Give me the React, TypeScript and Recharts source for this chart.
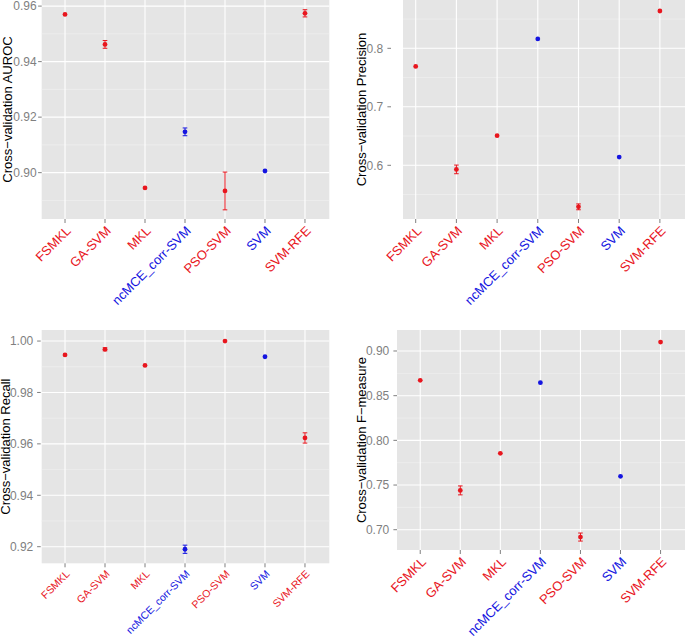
import React from 'react';
import { ScatterChart, Scatter, XAxis, YAxis, CartesianGrid, ErrorBar } from 'recharts';

// ---------- data ----------
const categories = ['FSMKL', 'GA-SVM', 'MKL', 'ncMCE_corr-SVM', 'PSO-SVM', 'SVM', 'SVM-RFE'];
const blueCategories = ['ncMCE_corr-SVM', 'SVM'];
const categoryIndex = [0, 1, 2, 3, 4, 5, 6];

const aurocValues = [0.957, 0.9462, 0.8945, 0.9147, 0.8934, 0.9006, 0.9574];
const aurocErrors = [0, 0.0014, 0, 0.0014, 0.0068, 0, 0.0013];
const aurocTicks = [0.9, 0.92, 0.94, 0.96];
const aurocMinor = [0.89, 0.91, 0.93, 0.95];

const precisionValues = [0.769, 0.593, 0.6506, 0.816, 0.529, 0.614, 0.8638];
const precisionErrors = [0, 0.0074, 0, 0, 0.005, 0, 0];
const precisionTicks = [0.6, 0.7, 0.8];
const precisionMinor = [0.55, 0.65, 0.75, 0.85];

const recallValues = [0.9946, 0.9968, 0.9905, 0.919, 1.0, 0.9939, 0.9623];
const recallErrors = [0, 0.0006, 0, 0.0016, 0, 0, 0.002];
const recallTicks = [0.92, 0.94, 0.96, 0.98, 1.0];
const recallMinor = [0.93, 0.95, 0.97, 0.99];

const fValues = [0.8672, 0.744, 0.7855, 0.8646, 0.6918, 0.7597, 0.91];
const fErrors = [0, 0.005, 0, 0, 0.0045, 0, 0];
const fTicks = [0.7, 0.75, 0.8, 0.85, 0.9];
const fMinor = [0.725, 0.775, 0.825, 0.875];

// ---------- style ----------
const RED = '#E8161E';
const BLUE = '#1515E0';
const FONT = '"Liberation Sans", Arial, Helvetica, sans-serif';
const TICK_GREY = '#7F7F7F';

type PanelCfg = {
  title: string;
  values: number[];
  errors: number[];
  ticks: number[];
  minor: number[];
  decimals: number;
  box: { left: number; top: number; right: number; bottom: number };
  plot: { left: number; top: number; right: number; bottom: number };
  xDomain: [number, number];
  yDomain: [number, number];
  labelOffset: number;
  dashEnd: number;
  xFont: number;
  titleX: number;
};

const panels: PanelCfg[] = [
  {
    title: 'Cross\u2212validation AUROC',
    values: aurocValues,
    errors: aurocErrors,
    ticks: aurocTicks,
    minor: aurocMinor,
    decimals: 2,
    box: { left: 0, top: 0, right: 340, bottom: 320 },
    plot: { left: 41.7, top: 0, right: 329.3, bottom: 219 },
    xDomain: [-0.583, 6.608],
    yDomain: [0.8833, 0.9622],
    labelOffset: 5,
    dashEnd: 0,
    xFont: 13,
    titleX: 11.5,
  },
  {
    title: 'Cross\u2212validation Precision',
    values: precisionValues,
    errors: precisionErrors,
    ticks: precisionTicks,
    minor: precisionMinor,
    decimals: 1,
    box: { left: 340, top: 0, right: 685, bottom: 320 },
    plot: { left: 403, top: 0, right: 685, bottom: 219 },
    xDomain: [-0.312, 6.617],
    yDomain: [0.5082, 0.8826],
    labelOffset: 19.7,
    dashEnd: 12,
    xFont: 13,
    titleX: 366,
  },
  {
    title: 'Cross\u2212validation Recall',
    values: recallValues,
    errors: recallErrors,
    ticks: recallTicks,
    minor: recallMinor,
    decimals: 2,
    box: { left: 0, top: 320, right: 340, bottom: 638 },
    plot: { left: 41.7, top: 330, right: 329.3, bottom: 563.3 },
    xDomain: [-0.583, 6.608],
    yDomain: [0.91354, 1.0043],
    labelOffset: 8.4,
    dashEnd: 1,
    xFont: 10.5,
    titleX: 10.5,
  },
  {
    title: 'Cross\u2212validation F\u2212measure',
    values: fValues,
    errors: fErrors,
    ticks: fTicks,
    minor: fMinor,
    decimals: 2,
    box: { left: 340, top: 320, right: 685, bottom: 638 },
    plot: { left: 397, top: 330, right: 685, bottom: 550 },
    xDomain: [-0.58, 6.61],
    yDomain: [0.6773, 0.9235],
    labelOffset: 7.7,
    dashEnd: 0,
    xFont: 13,
    titleX: 366,
  },
];

const colorOf = (name: string) => (blueCategories.includes(name) ? BLUE : RED);

function Panel({ cfg }: { cfg: PanelCfg }) {
  const { box, plot } = cfg;
  const width = box.right - box.left;
  const height = box.bottom - box.top;
  const data = categories.map((name, i) => ({
    x: categoryIndex[i],
    y: cfg.values[i],
    err: cfg.errors[i],
    name,
  }));
  const redData = data.filter((d) => !blueCategories.includes(d.name));
  const blueData = data.filter((d) => blueCategories.includes(d.name));

  const xTick = (props: any) => {
    const { x, y, payload } = props;
    const name = categories[payload.value];
    const ay = y + 6;
    return (
      <g>
        <line x1={x} x2={x} y1={y} y2={y + 4} stroke={TICK_GREY} strokeWidth={1} />
        <text
          x={x}
          y={ay}
          dy="0.72em"
          textAnchor="end"
          transform={`rotate(-45, ${x}, ${ay})`}
          fill={colorOf(name)}
          fontSize={cfg.xFont}
          fontFamily={FONT}
        >
          {name}
        </text>
      </g>
    );
  };

  const yTick = (props: any) => {
    const { x, y, payload } = props;
    return (
      <g>
        <line
          x1={x - cfg.dashEnd - 3.6}
          x2={x - cfg.dashEnd}
          y1={y}
          y2={y}
          stroke={TICK_GREY}
          strokeWidth={1}
        />
        <text
          x={x - cfg.labelOffset}
          y={y}
          dy="0.36em"
          textAnchor="end"
          fill={TICK_GREY}
          fontSize={12}
          fontFamily={FONT}
        >
          {Number(payload.value).toFixed(cfg.decimals)}
        </text>
      </g>
    );
  };

  const dot = (color: string) => (props: any) => (
    <circle cx={props.cx} cy={props.cy} r={2.4} fill={color} />
  );

  const titleCY = (plot.top + plot.bottom) / 2 - box.top;
  const titleX = cfg.titleX - box.left;

  return (
    <div style={{ position: 'absolute', left: box.left, top: box.top, width, height }}>
      <ScatterChart
        width={width}
        height={height}
        margin={{ top: plot.top - box.top, right: box.right - plot.right, bottom: 0, left: 0 }}
      >
        <CartesianGrid
          horizontalValues={cfg.minor}
          vertical={false}
          stroke="#F2F2F2"
          strokeWidth={0.6}
          fill="#E5E5E5"
        />
        <CartesianGrid
          horizontalValues={cfg.ticks}
          verticalValues={categoryIndex}
          stroke="#FFFFFF"
          strokeWidth={1.1}
        />
        <XAxis
          type="number"
          dataKey="x"
          domain={cfg.xDomain}
          ticks={categoryIndex}
          interval={0}
          allowDataOverflow
          axisLine={false}
          tickLine={false}
          tickSize={0}
          tickMargin={0}
          height={box.bottom - plot.bottom}
          tick={xTick}
        />
        <YAxis
          type="number"
          dataKey="y"
          domain={cfg.yDomain}
          ticks={cfg.ticks}
          interval={0}
          allowDataOverflow
          axisLine={false}
          tickLine={false}
          tickSize={0}
          tickMargin={0}
          width={plot.left - box.left}
          tick={yTick}
        />
        <Scatter data={redData} fill={RED} shape={dot(RED)} isAnimationActive={false}>
          <ErrorBar dataKey="err" direction="y" width={2.3} stroke={RED} strokeWidth={1} />
        </Scatter>
        <Scatter data={blueData} fill={BLUE} shape={dot(BLUE)} isAnimationActive={false}>
          <ErrorBar dataKey="err" direction="y" width={2.3} stroke={BLUE} strokeWidth={1} />
        </Scatter>
      </ScatterChart>
      <svg
        width={width}
        height={height}
        style={{ position: 'absolute', left: 0, top: 0, pointerEvents: 'none' }}
      >
        <text
          x={titleX}
          y={titleCY}
          textAnchor="middle"
          transform={`rotate(-90, ${titleX}, ${titleCY})`}
          fill="#000000"
          fontSize={13}
          fontFamily={FONT}
        >
          {cfg.title}
        </text>
      </svg>
    </div>
  );
}

export default function App() {
  return (
    <div
      style={{
        position: 'absolute',
        left: 0,
        top: 0,
        width: 685,
        height: 638,
        background: '#FFFFFF',
        overflow: 'hidden',
      }}
    >
      {panels.map((cfg) => (
        <Panel key={cfg.title} cfg={cfg} />
      ))}
    </div>
  );
}
